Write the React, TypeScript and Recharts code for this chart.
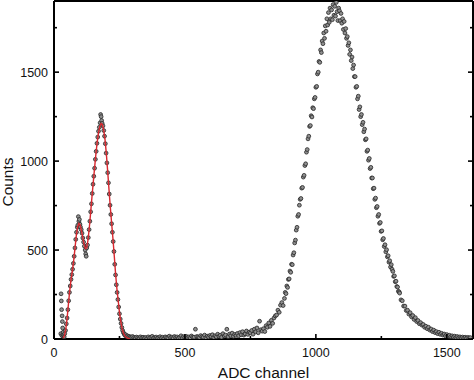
import { ScatterChart, Scatter, XAxis, YAxis, Label } from 'recharts';

const FONT = '"Liberation Sans", Arial, Helvetica, sans-serif';

// the two low-channel peaks: [channel, counts]
const lowPeak: [number, number][] = [
  [26, 30], [27, 254], [28, 214], [29, 165], [30, 20], [31, 130], [32, 98], [33, 62], [34, 15], [35, 38],
  [37, 22], [39, 12], [41, 30], [44, 48], [47, 85], [50, 118], [53, 165], [56, 215], [59, 262], [62, 298],
  [65, 335], [68, 362], [71, 392], [74, 425], [77, 465], [80, 512], [83, 560], [86, 600], [89, 628], [91, 640],
  [93, 688], [95, 662], [97, 672], [99, 645], [101, 630], [104, 615], [107, 595], [110, 568], [113, 545], [116, 522],
  [119, 500], [121, 478], [123, 465], [125, 512], [128, 528], [131, 570], [134, 615], [137, 662], [140, 715], [143, 760],
  [146, 818], [149, 870], [152, 915], [155, 960], [158, 1010], [161, 1055], [164, 1100], [167, 1135], [170, 1168], [173, 1190],
  [176, 1215], [178, 1262], [180, 1250], [182, 1228], [184, 1212], [187, 1198], [190, 1172], [193, 1140], [196, 1098], [199, 1045],
  [202, 990], [205, 935], [208, 878], [211, 815], [214, 752], [217, 700], [220, 648], [223, 600], [226, 548], [229, 492],
  [232, 420], [235, 360], [238, 305], [241, 262], [244, 222], [247, 180], [250, 142], [253, 112], [256, 88], [259, 65],
  [262, 48], [265, 36], [268, 28], [271, 20], [274, 24], [277, 14], [280, 18], [283, 10], [286, 15], [289, 8],
  [292, 12], [296, 9],
];

// flat background, channels 300..875 every 5
const bgStart = 300;
const bgStep = 5;
const bgCounts = [
  14, 9, 6, 11, 8, 5, 12, 7, 10, 6,
  9, 4, 12, 7, 10, 15, 6, 8, 11, 5,
  8, 13, 6, 10, 4, 12, 9, 7, 16, 8,
  11, 6, 14, 9, 12, 5, 10, 18, 7, 13,
  9, 15, 8, 12, 6, 17, 11, 10, 55, 14,
  12, 8, 19, 13, 10, 22, 7, 16, 11, 20,
  14, 24, 9, 18, 12, 27, 15, 21, 10, 30,
  17, 22, 55, 13, 28, 19, 33, 15, 26, 20,
  31, 18, 36, 24, 41, 22, 29, 45, 26, 38,
  34, 48, 27, 55, 40, 62, 35, 100, 52, 44,
  58, 42, 75, 66, 90, 71, 105, 88, 118, 130,
  135, 162, 150, 190, 205, 188,
];

// main peak, channels 880..1318 every 3
const mainStart = 880;
const mainStep = 3;
const mainCounts = [
  228, 262, 255, 298, 290, 335, 338, 382, 375, 420,
  418, 472, 485, 540, 556, 612, 628, 690, 700, 752,
  785, 790, 848, 852, 910, 920, 975, 985, 1050, 1065,
  1125, 1140, 1195, 1200, 1255, 1248, 1300, 1295, 1350, 1358,
  1415, 1420, 1490, 1500, 1560, 1555, 1625, 1610, 1675, 1660,
  1720, 1690, 1760, 1730, 1800, 1765, 1835, 1780, 1860, 1800,
  1850, 1795, 1880, 1820, 1870, 1815, 1892, 1840, 1790, 1860,
  1845, 1790, 1830, 1775, 1800, 1740, 1785, 1720, 1745, 1690,
  1700, 1650, 1665, 1600, 1625, 1565, 1585, 1520, 1540, 1475,
  1475, 1415, 1420, 1350, 1365, 1290, 1305, 1250, 1262, 1205,
  1218, 1165, 1180, 1120, 1125, 1055, 1062, 1005, 1015, 958,
  965, 905, 905, 845, 848, 785, 792, 738, 745, 690,
  700, 650, 655, 605, 608, 558, 565, 520, 530, 490,
  502, 462, 468, 432, 440, 405, 418, 392, 380, 352,
  355, 322, 325, 295, 292, 268, 265,
];

// high-channel tail, channels 1320..1590 every 5
const tailStart = 1320;
const tailStep = 5;
const tailCounts = [
  258, 220, 215, 185, 185, 160, 162, 140, 148, 125,
  132, 110, 120, 98, 104, 86, 92, 78, 82, 66,
  72, 58, 66, 50, 56, 42, 50, 36, 42, 30,
  38, 26, 32, 22, 28, 18, 25, 15, 21, 13,
  18, 11, 16, 9, 14, 8, 12, 7, 11, 6,
  10, 5, 9, 6, 8,
];

// fit through the low peaks: [channel, counts]
const fitCurve: [number, number][] = [
  [35, 5], [40, 20], [45, 55], [50, 115], [55, 195], [60, 272], [65, 332], [70, 382], [75, 438], [80, 508],
  [85, 580], [90, 630], [95, 650], [100, 640], [105, 608], [110, 570], [115, 532], [120, 508], [125, 512], [130, 558],
  [135, 628], [140, 712], [145, 800], [150, 882], [155, 962], [160, 1040], [165, 1108], [170, 1160], [175, 1195], [180, 1212],
  [185, 1205], [190, 1172], [195, 1118], [200, 1040], [205, 942], [210, 840], [215, 742], [220, 652], [225, 566], [230, 470],
  [235, 370], [240, 285], [245, 218], [250, 150], [255, 98], [260, 58], [265, 34], [270, 19], [275, 11], [280, 6],
  [285, 3], [290, 2],
];

const xTicks = [0, 250, 500, 750, 1000, 1250, 1500];
const yTicks = [0, 250, 500, 750, 1000, 1250, 1500, 1750];

const onGrid = (start: number, step: number, counts: number[]) =>
  counts.map((n, i) => ({ ch: start + i * step, n }));

const points = [
  ...lowPeak.map(([ch, n]) => ({ ch, n })),
  ...onGrid(bgStart, bgStep, bgCounts),
  ...onGrid(mainStart, mainStep, mainCounts),
  ...onGrid(tailStart, tailStep, tailCounts),
];
const fitData = fitCurve.map(([ch, n]) => ({ ch, n }));

const isMajor = (v: number) => v % 500 === 0;

function BottomTick(props: any) {
  const { x, y, payload } = props;
  const major = isMajor(payload.value);
  return (
    <g>
      <line x1={x} y1={y} x2={x} y2={y - (major ? 5 : 3)} stroke="#000" strokeWidth={1.6} />
      {major && (
        <text x={x} y={y + 18} textAnchor="middle" fontSize={12.5} fontFamily={FONT} fill="#111">
          {payload.value}
        </text>
      )}
    </g>
  );
}

function TopTick(props: any) {
  const { x, y, payload } = props;
  const len = isMajor(payload.value) ? 5 : 3;
  return <line x1={x} y1={y} x2={x} y2={y + len} stroke="#000" strokeWidth={1.6} />;
}

function LeftTick(props: any) {
  const { x, y, payload } = props;
  const major = isMajor(payload.value);
  return (
    <g>
      <line x1={x} y1={y} x2={x + (major ? 5 : 3)} y2={y} stroke="#000" strokeWidth={1.6} />
      {major && (
        <text x={x - 6} y={y + 4.5} textAnchor="end" fontSize={12.5} fontFamily={FONT} fill="#111">
          {payload.value}
        </text>
      )}
    </g>
  );
}

function RightTick(props: any) {
  const { x, y, payload } = props;
  const len = isMajor(payload.value) ? 5 : 3;
  return <line x1={x} y1={y} x2={x - len} y2={y} stroke="#000" strokeWidth={1.6} />;
}

function Dot(props: any) {
  const { cx, cy } = props;
  if (cx == null || cy == null) return <g />;
  return <circle cx={cx} cy={cy} r={1.9} fill="#8f8f8f" stroke="#262626" strokeWidth={0.8} />;
}

export default function App() {
  return (
    <div style={{ position: 'absolute', left: 0, top: 0, width: 474, height: 380, background: '#fff' }}>
      <ScatterChart width={474} height={380} margin={{ top: 1, right: 1, bottom: 0, left: 0 }}>
        <XAxis
          dataKey="ch"
          type="number"
          domain={[0, 1600]}
          allowDataOverflow
          ticks={xTicks}
          interval={0}
          height={41}
          tickSize={0}
          tickMargin={0}
          tickLine={false}
          axisLine={{ stroke: '#000', strokeWidth: 2 }}
          tick={<BottomTick />}
        >
          <Label
            content={({ viewBox }: any) => {
              const vb = viewBox ?? { x: 54, y: 339, width: 419, height: 41 };
              return (
                <text x={vb.x + vb.width / 2} y={vb.y + vb.height - 2} textAnchor="middle" fontSize={15.5} fontFamily={FONT} fill="#111">
                  ADC channel
                </text>
              );
            }}
          />
        </XAxis>
        <XAxis
          xAxisId="top"
          orientation="top"
          mirror
          type="number"
          domain={[0, 1600]}
          allowDataOverflow
          ticks={xTicks}
          interval={0}
          tickSize={0}
          tickMargin={0}
          tickLine={false}
          axisLine={{ stroke: '#000', strokeWidth: 2 }}
          tick={<TopTick />}
        />
        <YAxis
          dataKey="n"
          type="number"
          domain={[0, 1900]}
          allowDataOverflow
          ticks={yTicks}
          interval={0}
          width={54}
          tickSize={0}
          tickMargin={0}
          tickLine={false}
          axisLine={{ stroke: '#000', strokeWidth: 2 }}
          tick={<LeftTick />}
        >
          <Label
            content={({ viewBox }: any) => {
              const vb = viewBox ?? { x: 0, y: 1, width: 54, height: 338 };
              const cx = vb.x + 12.5;
              const cy = vb.y + vb.height / 2 + 12;
              return (
                <text transform={`translate(${cx}, ${cy}) rotate(-90)`} textAnchor="middle" fontSize={15.5} fontFamily={FONT} fill="#111">
                  Counts
                </text>
              );
            }}
          />
        </YAxis>
        <YAxis
          yAxisId="right"
          orientation="right"
          mirror
          type="number"
          domain={[0, 1900]}
          allowDataOverflow
          ticks={yTicks}
          interval={0}
          tickSize={0}
          tickMargin={0}
          tickLine={false}
          axisLine={{ stroke: '#000', strokeWidth: 2 }}
          tick={<RightTick />}
        />
        <Scatter data={points} shape={<Dot />} isAnimationActive={false} />
        <Scatter
          data={fitData}
          line={{ stroke: '#d8282f', strokeWidth: 1.4 }}
          shape={() => <g />}
          isAnimationActive={false}
        />
      </ScatterChart>
    </div>
  );
}
